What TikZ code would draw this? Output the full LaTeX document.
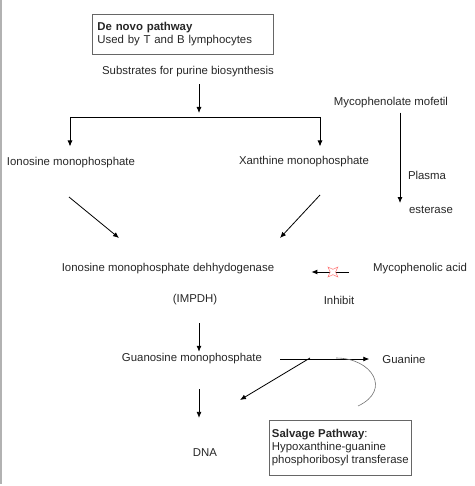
\documentclass[tikz,border=0pt]{standalone}
\usepackage{fontspec}
\setmainfont{Liberation Sans}
\usetikzlibrary{shapes.geometric,arrows.meta}

\begin{document}
\begin{tikzpicture}[x=1pt,y=-1pt,
    every node/.style={font=\fontsize{11.4}{13}\selectfont,text=black!85,inner sep=0pt},
    infobox/.style={draw=black!60,line width=.8pt,align=left,anchor=north west},
    arr/.style={-{Latex[length=6pt,width=5pt]},line width=.8pt},
    blockstar/.style={star,star points=4,star point ratio=2.6,rotate=45,
      minimum size=14pt,draw=red!55,fill=white,line width=.5pt}]
        \useasboundingbox (0,0) rectangle (474,486);
        \fill[black!30] (0,0) rectangle (2,484);

        % de novo route
        \node[infobox,inner xsep=5pt,text width=171pt,minimum height=40pt] (denovo) at (92,14)
          {\textbf{De novo pathway}\\Used by T and B lymphocytes};
        \node (subs) at (188,72) {Substrates for purine biosynthesis};
        \coordinate (split) at (199,117);
        \coordinate (splitL) at (70,117);
        \coordinate (splitR) at (320,117);
        \node (imp) at (71,163) {Ionosine monophosphate};
        \node (xmp) at (304,162) {Xanthine monophosphate};
        \node (impdh) at (168,269) {Ionosine monophosphate dehhydogenase};
        \node (abbr) at (195,300) {(IMPDH)};
        \node (gmp) at (192,359) {Guanosine monophosphate};
        \node (gua) at (404,359) {Guanine};
        \node (dna) at (205,453) {DNA};

        \draw[arr,shorten <=6.5pt,shorten >=4pt] (subs.south -| split) -- (split);
        \draw[line width=.8pt] (splitL) -- (splitR);
        \draw[arr,shorten >=11pt] (splitL) -- (splitL |- imp.north);
        \draw[arr,shorten >=10pt] (splitR) -- (splitR |- xmp.north);

        \coordinate (impout) at (69,197);
        \coordinate (impin) at (119,238);
        \coordinate (xmpout) at (320,195);
        \coordinate (xmpin) at (280,238);
        \draw[arr] (impout) -- (impin);
        \draw[arr] (xmpout) -- (xmpin);

        \draw[arr,shorten <=17.5pt,shorten >=1.7pt] ([xshift=4pt]abbr.south) -- ([xshift=4pt]abbr.south |- gmp.north);
        \draw[arr,shorten <=18pt,shorten >=13pt] (gmp.east) -- (gua.west);
        \draw[arr,shorten <=24.7pt,shorten >=31pt] ([xshift=7pt]gmp.south) -- ([xshift=7pt]gmp.south |- dna.north);

        % salvage route
        \coordinate (fork) at (310,358);
        \coordinate (dnain) at (240,400);
        \coordinate (recycle) at (336,358);
        \coordinate (recycleend) at (358,406);
        \draw[arr] (fork) -- (dnain);
        \draw[black!55,line width=.6pt] (recycle) .. controls (372,358) and (392,390) .. (recycleend);
        \node[infobox,inner sep=2.5pt,minimum height=55pt] (salvage) at (269,420)
          {\textbf{Salvage Pathway}:\\Hypoxanthine-guanine\\phosphoribosyl transferase};

        % drug
        \node (mmf) at (391,103) {Mycophenolate mofetil};
        \node (plasma) at (427,175) {Plasma};
        \node (esterase) at (431,210) {esterase};
        \coordinate (mmfend) at (400,203);
        \draw[arr,shorten <=4pt] (mmf.south -| mmfend) -- (mmfend);
        \node (mpa) at (420,269) {Mycophenolic acid};
        \node (inhibit) at (339,300) {Inhibit};
        \draw[arr,shorten <=24pt,shorten >=37pt] ([yshift=-3pt]mpa.west) -- ([yshift=-3pt]impdh.east)
          node[blockstar,pos=.406] (block) {};
\end{tikzpicture}
\end{document}
